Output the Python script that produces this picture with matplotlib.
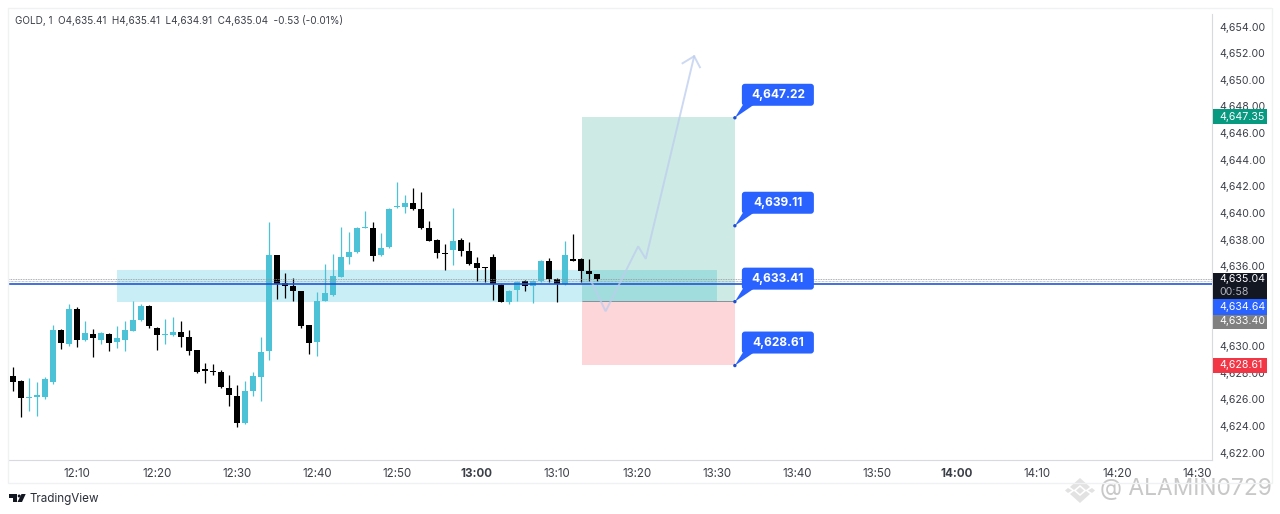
import matplotlib
matplotlib.use("Agg")
import matplotlib.pyplot as plt
from matplotlib.patches import Rectangle, Polygon, FancyBboxPatch, Circle
from matplotlib.transforms import Bbox, IdentityTransform
from matplotlib.ticker import FuncFormatter, FixedLocator

plt.rcParams["font.family"] = ["Inter", "DejaVu Sans"]

# minutes since 00:00, first candle is 12:02
first_minute = 722
opens = [4627.78, 4627.36, 4626.08, 4626.20, 4626.15, 4627.33, 4631.19, 4630.16, 4632.76, 4630.44,
         4630.94, 4630.49, 4630.91, 4630.29, 4630.49, 4631.16, 4631.94, 4633.02, 4631.39, 4630.81,
         4630.84, 4631.09, 4630.66, 4629.68, 4628.21, 4628.16, 4628.03, 4626.86, 4626.25, 4624.20,
         4626.65, 4627.71, 4629.61, 4636.85, 4634.72, 4634.54, 4634.17, 4631.56, 4630.28, 4633.41,
         4633.84, 4635.22, 4636.72, 4637.05, 4638.87, 4638.87, 4636.82, 4637.42, 4640.43, 4640.43,
         4640.75, 4640.30, 4638.87, 4638.00, 4636.97, 4637.25, 4638.00, 4637.17, 4636.22, 4635.89,
         4636.72, 4634.62, 4633.34, 4634.19, 4634.89, 4634.52, 4634.87, 4636.42, 4635.07, 4634.64,
         4636.54, 4636.54, 4635.67, 4635.41]
highs = [4628.46, 4627.46, 4627.61, 4627.28, 4627.66, 4631.61, 4631.25, 4633.17, 4632.91, 4631.91,
         4631.29, 4631.04, 4630.96, 4631.49, 4631.91, 4633.42, 4633.12, 4633.05, 4631.41, 4632.04,
         4632.16, 4631.91, 4631.24, 4629.68, 4628.71, 4628.66, 4628.21, 4627.83, 4627.11, 4627.41,
         4628.03, 4630.66, 4639.30, 4636.87, 4635.47, 4635.12, 4634.17, 4631.56, 4634.04, 4636.17,
         4636.92, 4638.97, 4638.55, 4638.92, 4640.18, 4639.35, 4638.50, 4640.35, 4642.30, 4641.38,
         4641.85, 4641.60, 4639.42, 4638.05, 4637.67, 4640.35, 4638.10, 4637.80, 4636.72, 4635.94,
         4636.92, 4634.67, 4634.19, 4634.89, 4634.97, 4634.94, 4636.47, 4636.62, 4635.12, 4637.92,
         4638.42, 4636.59, 4636.54, 4635.41]
lows = [4626.65, 4624.65, 4625.15, 4624.78, 4626.03, 4627.16, 4629.78, 4630.04, 4629.96, 4630.41,
        4629.16, 4630.16, 4629.66, 4629.83, 4629.66, 4631.11, 4631.91, 4631.36, 4629.71, 4630.16,
        4630.79, 4629.96, 4629.36, 4627.96, 4627.23, 4627.83, 4626.86, 4625.53, 4623.90, 4624.15,
        4626.28, 4625.85, 4628.96, 4633.54, 4633.62, 4633.37, 4631.34, 4629.41, 4629.28, 4633.36,
        4633.79, 4635.17, 4636.17, 4637.02, 4638.85, 4636.37, 4636.80, 4637.37, 4640.38, 4639.97,
        4640.23, 4638.80, 4637.87, 4636.62, 4635.74, 4636.12, 4636.79, 4636.12, 4634.87, 4634.84,
        4633.49, 4633.29, 4633.16, 4633.36, 4634.12, 4633.24, 4634.84, 4634.79, 4633.29, 4634.59,
        4636.37, 4634.79, 4634.92, 4634.91]
closes = [4627.33, 4626.08, 4626.20, 4626.28, 4627.53, 4631.19, 4630.24, 4632.76, 4630.49, 4630.99,
          4630.64, 4630.99, 4630.24, 4630.61, 4631.24, 4631.96, 4633.02, 4631.49, 4630.86, 4630.94,
          4631.06, 4630.69, 4629.66, 4628.08, 4628.16, 4628.03, 4626.91, 4626.35, 4624.23, 4626.63,
          4627.76, 4629.56, 4636.87, 4634.69, 4634.54, 4634.17, 4631.54, 4630.21, 4633.41, 4633.99,
          4635.29, 4636.72, 4637.05, 4638.90, 4638.92, 4636.77, 4637.40, 4640.33, 4640.48, 4640.75,
          4640.28, 4638.85, 4637.90, 4636.97, 4636.92, 4637.92, 4637.12, 4636.14, 4635.89, 4635.84,
          4634.64, 4633.34, 4634.14, 4634.84, 4634.52, 4634.89, 4636.37, 4635.04, 4634.64, 4636.87,
          4636.42, 4635.62, 4635.39, 4635.04]
minutes = [first_minute + i for i in range(len(opens))]

# 4,632 and 4,634 sit behind the price tags in the reference
price_ticks = [4622, 4624, 4626, 4628, 4630, 4636, 4638, 4640, 4642, 4644, 4646, 4648, 4650, 4652, 4654]
time_ticks = list(range(730, 880, 10))
callout_prices = [4647.22, 4639.11, 4633.41, 4628.61]
path_minutes = [794.25, 796.09, 800.16, 801.11, 807.16]
path_prices = [4634.92, 4632.61, 4637.49, 4636.55, 4651.77]
head_minutes = [805.71, 807.16, 807.88]
head_prices = [4651.24, 4651.77, 4650.94]

UP = "#4dc1d6"
DOWN = "#000000"
BLUE = "#2962ff"
W, H = 1280, 514

fig = plt.figure(figsize=(12.8, 5.14), dpi=100, facecolor="white")
ax = fig.add_axes([9 / W, 1 - 460 / H, 1203 / W, 446 / H])
ax.set_xlim(721.5, 871.9)
ax.set_ylim(4621.44, 4654.94)

# frame of the chart widget
frame = Rectangle((8 / W, 1 - 483 / H), 1264 / W, 475 / H, transform=fig.transFigure,
                  fill=False, ec="#f0f1f3", lw=1)
fig.add_artist(frame)
for s in ["top", "left"]:
    ax.spines[s].set_visible(False)
for s in ["right", "bottom"]:
    ax.spines[s].set_color("#d8dae0")
    ax.spines[s].set_linewidth(0.8)

# zones
ax.add_patch(Rectangle((735, 4633.34), 75, 2.4, fc="#c9eef6", ec="none", zorder=1))
ax.add_patch(Rectangle((793.1, 4633.41), 19.15, 13.81, fc="#089981", alpha=0.2, ec="none", zorder=1.2))
ax.add_patch(Rectangle((793.1, 4628.61), 19.15, 4.8, fc="#f23645", alpha=0.2, ec="none", zorder=1.2))
ax.hlines(4633.40, 793.1, 812.25, color="#8a8f99", lw=0.7, zorder=1.3)

# candles
colors = [UP if c >= o else DOWN for o, c in zip(opens, closes)]
ax.vlines(minutes, lows, highs, colors=colors, lw=0.9, zorder=2)
bottoms = [min(o, c) for o, c in zip(opens, closes)]
heights = [max(abs(c - o), 0.1) for o, c in zip(opens, closes)]
ax.bar(minutes, heights, bottom=bottoms, width=0.74, color=colors, zorder=2.2)

# price lines
ax.axhline(4634.64, color="#2456d6", lw=1.2, zorder=3)
ax.axhline(4635.04, color="#8f939c", lw=0.6, ls=(0, (1, 1)), zorder=2.9)
ax.axhline(4634.92, color="#8f939c", lw=0.5, ls=(0, (1, 1)), zorder=2.9)

# projected path with open arrow head
ax.plot(path_minutes, path_prices, color="#bccdee", alpha=0.75, lw=1.4, zorder=3.2, solid_joinstyle="miter")
ax.plot(head_minutes, head_prices, color="#bccdee", alpha=0.75, lw=1.4, zorder=3.2)

# blue callouts on the position corners, sized in pixels
fig.canvas.draw()
for p in callout_prices:
    X, Y = ax.transData.transform((812.25, p))
    Y -= 1
    ax.add_patch(FancyBboxPatch((X + 9, Y + 14), 68, 18, boxstyle="round,pad=2,rounding_size=3",
                                transform=IdentityTransform(), fc=BLUE, ec="none", zorder=6.8, clip_on=False))
    ax.add_patch(Polygon([(X + 8, Y + 13), (X + 19, Y + 13), (X, Y)], transform=IdentityTransform(),
                         fc=BLUE, ec="none", zorder=6.8, clip_on=False))
    ax.add_patch(Circle((X, Y), 1.7, transform=IdentityTransform(), fc="#1f4fd0", ec="none",
                        zorder=7, clip_on=False))
    ax.annotate(f"{p:,.2f}", xy=(812.25, p), xytext=(43, 22), textcoords="offset pixels",
                ha="center", va="center", color="white", fontsize=8.6, fontweight="bold", zorder=7)

# axes ticks
ax.yaxis.tick_right()
ax.yaxis.set_major_locator(FixedLocator(price_ticks))
ax.yaxis.set_major_formatter(FuncFormatter(lambda v, _: f"{v:,.2f}"))
ax.xaxis.set_major_locator(FixedLocator(time_ticks))
ax.xaxis.set_major_formatter(FuncFormatter(lambda v, _: f"{int(v) // 60}:{int(v) % 60:02d}"))
ax.tick_params(axis="y", length=0, pad=5, labelsize=7.6, labelcolor="#3b3f48")
ax.tick_params(axis="x", length=0, pad=6, labelsize=8.3, labelcolor="#3b3f48")
clip = Bbox([[0, 0], [1212, H]])
for t, lab in zip(time_ticks, ax.get_xticklabels()):
    lab.set_clip_box(clip)
    lab.set_clip_on(True)
    if t in (780, 840):
        lab.set_fontweight("bold")


def px_rect(x0, y0, x1, y1, color):
    r = Rectangle((x0 / W, 1 - y1 / H), (x1 - x0) / W, (y1 - y0) / H, transform=fig.transFigure,
                  fc=color, ec="none", zorder=8, clip_on=False)
    ax.add_patch(r)


def px_text(x, y, s, **kw):
    ax.text(x / W, 1 - y / H, s, transform=fig.transFigure, va="center", zorder=9, clip_on=False, **kw)


def px_poly(pts, color):
    ax.add_patch(Polygon([(x / W, 1 - y / H) for x, y in pts], transform=fig.transFigure,
                         fc=color, ec="none", zorder=9, clip_on=False))


# price scale tags
tags = [(109, 124, 116.5, "#089981", "4,647.35"), (299, 315, 306.7, BLUE, "4,634.64"),
        (315, 329, 321.5, "#808080", "4,633.40"), (358, 373, 365.5, "#f23645", "4,628.61")]
for y0, y1, yc, c, s in tags:
    px_rect(1213, y0, 1267, y1, c)
    px_text(1219, yc, s, color="white", fontsize=7.6)
px_rect(1213, 272.5, 1267, 299, "#131722")
px_text(1219, 279.5, "4,635.04", color="white", fontsize=7.6)
px_text(1219, 292, "00:58", color="#b2b5be", fontsize=7.6)

# header and branding
px_text(15, 21, "GOLD, 1  O4,635.41  H4,635.41  L4,634.91  C4,635.04  -0.53 (-0.01%)",
        color="#3b3f48", fontsize=7.15)
px_text(29, 499, "TradingView", color="#2a2e39", fontsize=8.4)
px_poly([(9, 494), (17, 494), (17, 502), (13, 502), (13, 498), (9, 498)], "#131722")
px_poly([(21.5, 494), (25.7, 494), (22, 502), (17.5, 502)], "#131722")
ax.add_patch(Circle((19.2, H - 496), 1.5, transform=IdentityTransform(), fc="#131722", ec="none",
                    zorder=9, clip_on=False))

# watermark
for pts in [[(1080, 478), (1090, 487), (1086, 490), (1080, 485), (1074, 490), (1070, 487)],
            [(1080, 503), (1090, 494), (1086, 491), (1080, 496), (1074, 491), (1070, 494)],
            [(1068, 488), (1072, 490.5), (1068, 493), (1065, 490.5)],
            [(1092, 488), (1095, 490.5), (1092, 493), (1088, 490.5)],
            [(1080, 487), (1084, 490.5), (1080, 494), (1076, 490.5)]]:
    px_poly(pts, "#e2e2e2")
px_text(1100, 489, "@ ALAMIN0729", color="#c8c8c8", fontsize=16.4)

fig.savefig("out.png", dpi=100, facecolor="white")
